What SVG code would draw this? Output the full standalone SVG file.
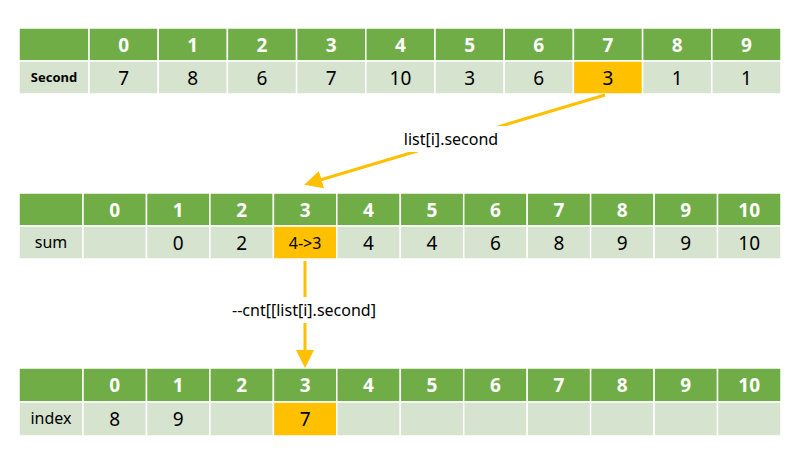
<svg xmlns="http://www.w3.org/2000/svg" width="800" height="450" viewBox="0 0 800 450">
<style>
.h{fill:#70AD47;stroke:#fff;stroke-width:1.5}
.c{fill:#D5E3CF;stroke:#fff;stroke-width:1.5}
.y{fill:#FFC000;stroke:#fff;stroke-width:1.5}
text{font-family:"Noto Sans","DejaVu Sans",sans-serif;text-anchor:middle;dominant-baseline:central}
.ht{fill:#fff;font-weight:bold;font-size:19px}
.ct{fill:#000;font-size:19px}
.lt{fill:#000;font-size:16px}
.ln{stroke:#FFC000;stroke-width:3;fill:none;marker-end:url(#a)}
</style>
<defs><marker id="a" markerWidth="6" markerHeight="6" refX="4" refY="3" orient="auto" markerUnits="strokeWidth"><path d="M0,0L6,3L0,6z" fill="#FFC000"/></marker></defs>
<rect width="800" height="450" fill="#fff"/>
<g id="table-second">
<rect class="h" x="19" y="28" width="70" height="33"/><rect class="c" x="19" y="61" width="70" height="33"/>
<text x="54" y="77" style="font-weight:bold;font-size:13px">Second</text>
<rect class="h" x="89" y="28" width="69.2" height="33"/><rect class="c" x="89" y="61" width="69.2" height="33"/><text class="ht" x="123.6" y="44.5">0</text><text class="ct" x="123.6" y="77.5">7</text>
<rect class="h" x="158.2" y="28" width="69.2" height="33"/><rect class="c" x="158.2" y="61" width="69.2" height="33"/><text class="ht" x="192.8" y="44.5">1</text><text class="ct" x="192.8" y="77.5">8</text>
<rect class="h" x="227.4" y="28" width="69.2" height="33"/><rect class="c" x="227.4" y="61" width="69.2" height="33"/><text class="ht" x="262" y="44.5">2</text><text class="ct" x="262" y="77.5">6</text>
<rect class="h" x="296.6" y="28" width="69.2" height="33"/><rect class="c" x="296.6" y="61" width="69.2" height="33"/><text class="ht" x="331.2" y="44.5">3</text><text class="ct" x="331.2" y="77.5">7</text>
<rect class="h" x="365.8" y="28" width="69.2" height="33"/><rect class="c" x="365.8" y="61" width="69.2" height="33"/><text class="ht" x="400.4" y="44.5">4</text><text class="ct" x="400.4" y="77.5">10</text>
<rect class="h" x="435" y="28" width="69.2" height="33"/><rect class="c" x="435" y="61" width="69.2" height="33"/><text class="ht" x="469.6" y="44.5">5</text><text class="ct" x="469.6" y="77.5">3</text>
<rect class="h" x="504.2" y="28" width="69.2" height="33"/><rect class="c" x="504.2" y="61" width="69.2" height="33"/><text class="ht" x="538.8" y="44.5">6</text><text class="ct" x="538.8" y="77.5">6</text>
<rect class="h" x="573.4" y="28" width="69.2" height="33"/><rect class="y" x="573.4" y="61" width="69.2" height="33"/><text class="ht" x="608" y="44.5">7</text><text class="ct" x="608" y="77.5">3</text>
<rect class="h" x="642.6" y="28" width="69.2" height="33"/><rect class="c" x="642.6" y="61" width="69.2" height="33"/><text class="ht" x="677.2" y="44.5">8</text><text class="ct" x="677.2" y="77.5">1</text>
<rect class="h" x="711.8" y="28" width="69.2" height="33"/><rect class="c" x="711.8" y="61" width="69.2" height="33"/><text class="ht" x="746.4" y="44.5">9</text><text class="ct" x="746.4" y="77.5">1</text>
</g>
<g id="table-sum">
<rect class="h" x="19" y="193" width="64" height="33"/><rect class="c" x="19" y="226" width="64" height="33"/><text class="lt" x="51" y="242">sum</text>
<rect class="h" x="83" y="193" width="63.5" height="33"/><rect class="c" x="83" y="226" width="63.5" height="33"/><text class="ht" x="114.7" y="209.5">0</text>
<rect class="h" x="146.5" y="193" width="63.5" height="33"/><rect class="c" x="146.5" y="226" width="63.5" height="33"/><text class="ht" x="178.2" y="209.5">1</text><text class="ct" x="178.2" y="242.5">0</text>
<rect class="h" x="209.9" y="193" width="63.5" height="33"/><rect class="c" x="209.9" y="226" width="63.5" height="33"/><text class="ht" x="241.6" y="209.5">2</text><text class="ct" x="241.6" y="242.5">2</text>
<rect class="h" x="273.4" y="193" width="63.5" height="33"/><rect class="y" x="273.4" y="226" width="63.5" height="33"/><text class="ht" x="305.1" y="209.5">3</text><text class="lt" x="305.1" y="242.5">4-&gt;3</text>
<rect class="h" x="336.8" y="193" width="63.5" height="33"/><rect class="c" x="336.8" y="226" width="63.5" height="33"/><text class="ht" x="368.5" y="209.5">4</text><text class="ct" x="368.5" y="242.5">4</text>
<rect class="h" x="400.3" y="193" width="63.5" height="33"/><rect class="c" x="400.3" y="226" width="63.5" height="33"/><text class="ht" x="432" y="209.5">5</text><text class="ct" x="432" y="242.5">4</text>
<rect class="h" x="463.7" y="193" width="63.5" height="33"/><rect class="c" x="463.7" y="226" width="63.5" height="33"/><text class="ht" x="495.4" y="209.5">6</text><text class="ct" x="495.4" y="242.5">6</text>
<rect class="h" x="527.2" y="193" width="63.5" height="33"/><rect class="c" x="527.2" y="226" width="63.5" height="33"/><text class="ht" x="558.9" y="209.5">7</text><text class="ct" x="558.9" y="242.5">8</text>
<rect class="h" x="590.6" y="193" width="63.5" height="33"/><rect class="c" x="590.6" y="226" width="63.5" height="33"/><text class="ht" x="622.3" y="209.5">8</text><text class="ct" x="622.3" y="242.5">9</text>
<rect class="h" x="654.1" y="193" width="63.5" height="33"/><rect class="c" x="654.1" y="226" width="63.5" height="33"/><text class="ht" x="685.8" y="209.5">9</text><text class="ct" x="685.8" y="242.5">9</text>
<rect class="h" x="717.5" y="193" width="63.5" height="33"/><rect class="c" x="717.5" y="226" width="63.5" height="33"/><text class="ht" x="749.2" y="209.5">10</text><text class="ct" x="749.2" y="242.5">10</text>
</g>
<g id="table-index">
<rect class="h" x="19" y="368" width="64" height="34"/><rect class="c" x="19" y="402" width="64" height="34"/><text class="lt" x="51" y="418">index</text>
<rect class="h" x="83" y="368" width="63.5" height="34"/><rect class="c" x="83" y="402" width="63.5" height="34"/><text class="ht" x="114.7" y="385">0</text><text class="ct" x="114.7" y="419">8</text>
<rect class="h" x="146.5" y="368" width="63.5" height="34"/><rect class="c" x="146.5" y="402" width="63.5" height="34"/><text class="ht" x="178.2" y="385">1</text><text class="ct" x="178.2" y="419">9</text>
<rect class="h" x="209.9" y="368" width="63.5" height="34"/><rect class="c" x="209.9" y="402" width="63.5" height="34"/><text class="ht" x="241.6" y="385">2</text>
<rect class="h" x="273.4" y="368" width="63.5" height="34"/><rect class="y" x="273.4" y="402" width="63.5" height="34"/><text class="ht" x="305.1" y="385">3</text><text class="ct" x="305.1" y="419">7</text>
<rect class="h" x="336.8" y="368" width="63.5" height="34"/><rect class="c" x="336.8" y="402" width="63.5" height="34"/><text class="ht" x="368.5" y="385">4</text>
<rect class="h" x="400.3" y="368" width="63.5" height="34"/><rect class="c" x="400.3" y="402" width="63.5" height="34"/><text class="ht" x="432" y="385">5</text>
<rect class="h" x="463.7" y="368" width="63.5" height="34"/><rect class="c" x="463.7" y="402" width="63.5" height="34"/><text class="ht" x="495.4" y="385">6</text>
<rect class="h" x="527.2" y="368" width="63.5" height="34"/><rect class="c" x="527.2" y="402" width="63.5" height="34"/><text class="ht" x="558.9" y="385">7</text>
<rect class="h" x="590.6" y="368" width="63.5" height="34"/><rect class="c" x="590.6" y="402" width="63.5" height="34"/><text class="ht" x="622.3" y="385">8</text>
<rect class="h" x="654.1" y="368" width="63.5" height="34"/><rect class="c" x="654.1" y="402" width="63.5" height="34"/><text class="ht" x="685.8" y="385">9</text>
<rect class="h" x="717.5" y="368" width="63.5" height="34"/><rect class="c" x="717.5" y="402" width="63.5" height="34"/><text class="ht" x="749.2" y="385">10</text>
</g>
<g id="connectors">
<path class="ln" d="M605,95L310,183"/>
<rect x="390" y="126" width="122" height="26" fill="#fff"/>
<text class="lt" x="451" y="139">list[i].second</text>
<path class="ln" d="M305,261L305,362"/>
<rect x="214" y="297" width="180" height="26" fill="#fff"/>
<text class="lt" x="304" y="310">--cnt[[list[i].second]</text>
</g>
</svg>
